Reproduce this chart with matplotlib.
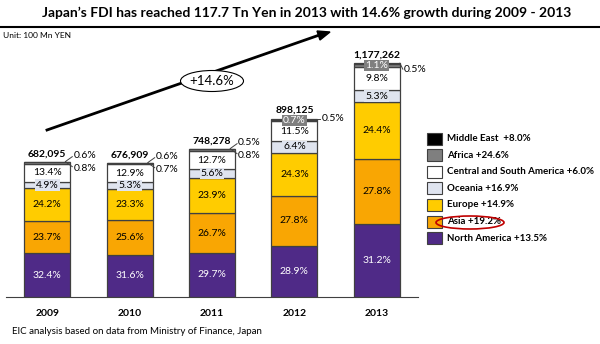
import numpy as np
import matplotlib.pyplot as plt
from matplotlib.patches import Ellipse, Rectangle

plt.rcParams['font.family'] = ['Lato', 'DejaVu Sans']

# data
years = ['2009', '2010', '2011', '2012', '2013']
totals = [682095, 676909, 748278, 898125, 1177262]
regions = ['North America', 'Asia', 'Europe', 'Oceania',
           'Central and South America', 'Africa', 'Middle East']
growth = ['+13.5%', '+19.2%', '+14.9%', '+16.9%', '+6.0%', '+24.6%', '+8.0%']
shares = {
    'North America': [32.4, 31.6, 29.7, 28.9, 31.2],
    'Asia': [23.7, 25.6, 26.7, 27.8, 27.8],
    'Europe': [24.2, 23.3, 23.9, 24.3, 24.4],
    'Oceania': [4.9, 5.3, 5.6, 6.4, 5.3],
    'Central and South America': [13.4, 12.9, 12.7, 11.5, 9.8],
    'Africa': [0.8, 0.7, 0.8, 0.7, 1.1],
    'Middle East': [0.6, 0.6, 0.5, 0.5, 0.5],
}
colors = {
    'North America': '#4f2a87',
    'Asia': '#f9a603',
    'Europe': '#ffcc00',
    'Oceania': '#dfe4ef',
    'Central and South America': '#ffffff',
    'Africa': '#7f7f7f',
    'Middle East': '#000000',
}

W, H = 600, 344
PXY = 5040.0   # value per pixel
PXX = 1 / 82.4  # bar index per pixel

fig = plt.figure(figsize=(6, 3.44), dpi=100)

def fx(x):
    return x / W

def fy(y):
    return 1 - y / H

ax = fig.add_axes([fx(6), fy(297), (418 - 6) / W, (297 - 27) / H])
ax.set_xlim(-0.5, 4.5)
ax.set_ylim(0, 270 * PXY)
for s in ['top', 'right', 'left']:
    ax.spines[s].set_visible(False)
ax.spines['bottom'].set_color('#404040')
ax.set_xticks([])
ax.set_yticks([])
ax.patch.set_alpha(0)

x = np.arange(len(years))
bw = 0.56
fs = 7.5
bottom = np.zeros(len(years))
for r in regions:
    h = np.array(totals) * np.array(shares[r]) / 100
    ax.bar(x, h, bw, bottom=bottom, color=colors[r], edgecolor='#404040', linewidth=0.9, zorder=2)
    for i in range(len(years)):
        yc = bottom[i] + h[i] / 2
        lab = f'{shares[r][i]:.1f}%'
        if r == 'North America':
            ax.text(x[i], yc, lab, ha='center', va='center', color='white', fontsize=fs, zorder=4)
        elif r in ('Asia', 'Europe', 'Central and South America'):
            ax.text(x[i], yc, lab, ha='center', va='center', color='black', fontsize=fs, zorder=4)
        elif r == 'Oceania':
            ax.text(x[i], yc, lab, ha='center', va='center', color='black', fontsize=fs, zorder=4,
                    bbox=dict(boxstyle='square,pad=0.1', fc=colors[r], ec='none'))
    bottom += h

# small shares at the top
right = x + bw / 2
for i in range(len(years)):
    top = bottom[i]
    me = f"{shares['Middle East'][i]:.1f}%"
    af = f"{shares['Africa'][i]:.1f}%"
    if i < 3:
        vx = right[i] - 5 * PXX
        tx = right[i] + 2 * PXX
        ax.plot([tx, vx, tx], [top + 5 * PXY, top, top - 5 * PXY], color='#404040', lw=0.7,
                zorder=5, clip_on=False)
        ax.text(tx + 1 * PXX, top + 6 * PXY, me, ha='left', va='center', fontsize=fs)
        ax.text(tx + 1 * PXX, top - 7 * PXY, af, ha='left', va='center', fontsize=fs)
    else:
        ax.text(x[i], top - 2 * PXY, af, ha='center', va='center', color='white', fontsize=fs, zorder=6,
                bbox=dict(boxstyle='square,pad=0.1', fc='#7f7f7f', ec='none'))
        dy = 0 if i == 3 else -6
        ax.plot([right[i], right[i] + 3 * PXX], [top, top + dy * PXY], color='#404040', lw=0.7,
                zorder=5, clip_on=False)
        ax.text(right[i] + 4 * PXX, top + dy * PXY, me, ha='left', va='center', fontsize=fs)
    ax.text(x[i], top + 8 * PXY, f'{totals[i]:,}', ha='center', va='center',
            fontsize=fs, fontweight='bold')
    ax.text(x[i], -17 * PXY, years[i], ha='center', va='center', fontsize=fs, fontweight='bold',
            clip_on=False)

# title and header
fig.text(fx(307), fy(13), 'Japan\u2019s FDI has reached 117.7 Tn Yen in 2013 with 14.6% growth during 2009 - 2013',
         ha='center', va='center', fontsize=10, fontweight='bold')
fig.add_artist(plt.Line2D([0, 1], [fy(27), fy(27)], color='black', lw=1.5))
fig.text(fx(3), fy(35), 'Unit: 100 Mn YEN', ha='left', va='center', fontsize=6)
fig.text(fx(12), fy(332), 'EIC analysis based on data from Ministry of Finance, Japan',
         ha='left', va='center', fontsize=7)

# growth arrow
fig.add_artist(plt.Line2D([fx(47), fx(318)], [fy(130), fy(35.5)], color='black', lw=2))
fig.patches.append(plt.Polygon([[fx(330), fy(32)], [fx(317), fy(31)], [fx(320), fy(40)]],
                               closed=True, color='black', transform=fig.transFigure))
fig.patches.append(Ellipse((fx(212), fy(81)), 63 / W, 21 / H, fc='white', ec='black', lw=0.8,
                           transform=fig.transFigure, zorder=3))
fig.text(fx(212), fy(81), '+14.6%', ha='center', va='center', fontsize=9.5, zorder=4)

# legend
for k, r in enumerate(regions[::-1]):
    yc = 138.5 + k * 16.6
    fig.patches.append(Rectangle((fx(427), fy(yc + 6)), 15 / W, 12 / H, fc=colors[r], ec='#404040',
                                 lw=0.8, transform=fig.transFigure))
    nm = r + ' ' if r == 'Middle East' else r
    fig.text(fx(447), fy(yc), nm + ' ' + growth[regions.index(r)], ha='left', va='center',
             fontsize=7, fontweight='bold')
fig.patches.append(Ellipse((fx(470), fy(222.5)), 68 / W, 13 / H, fc='none', ec='#c00000', lw=1.2,
                           transform=fig.transFigure, zorder=5))

fig.savefig('out.png', dpi=100)
